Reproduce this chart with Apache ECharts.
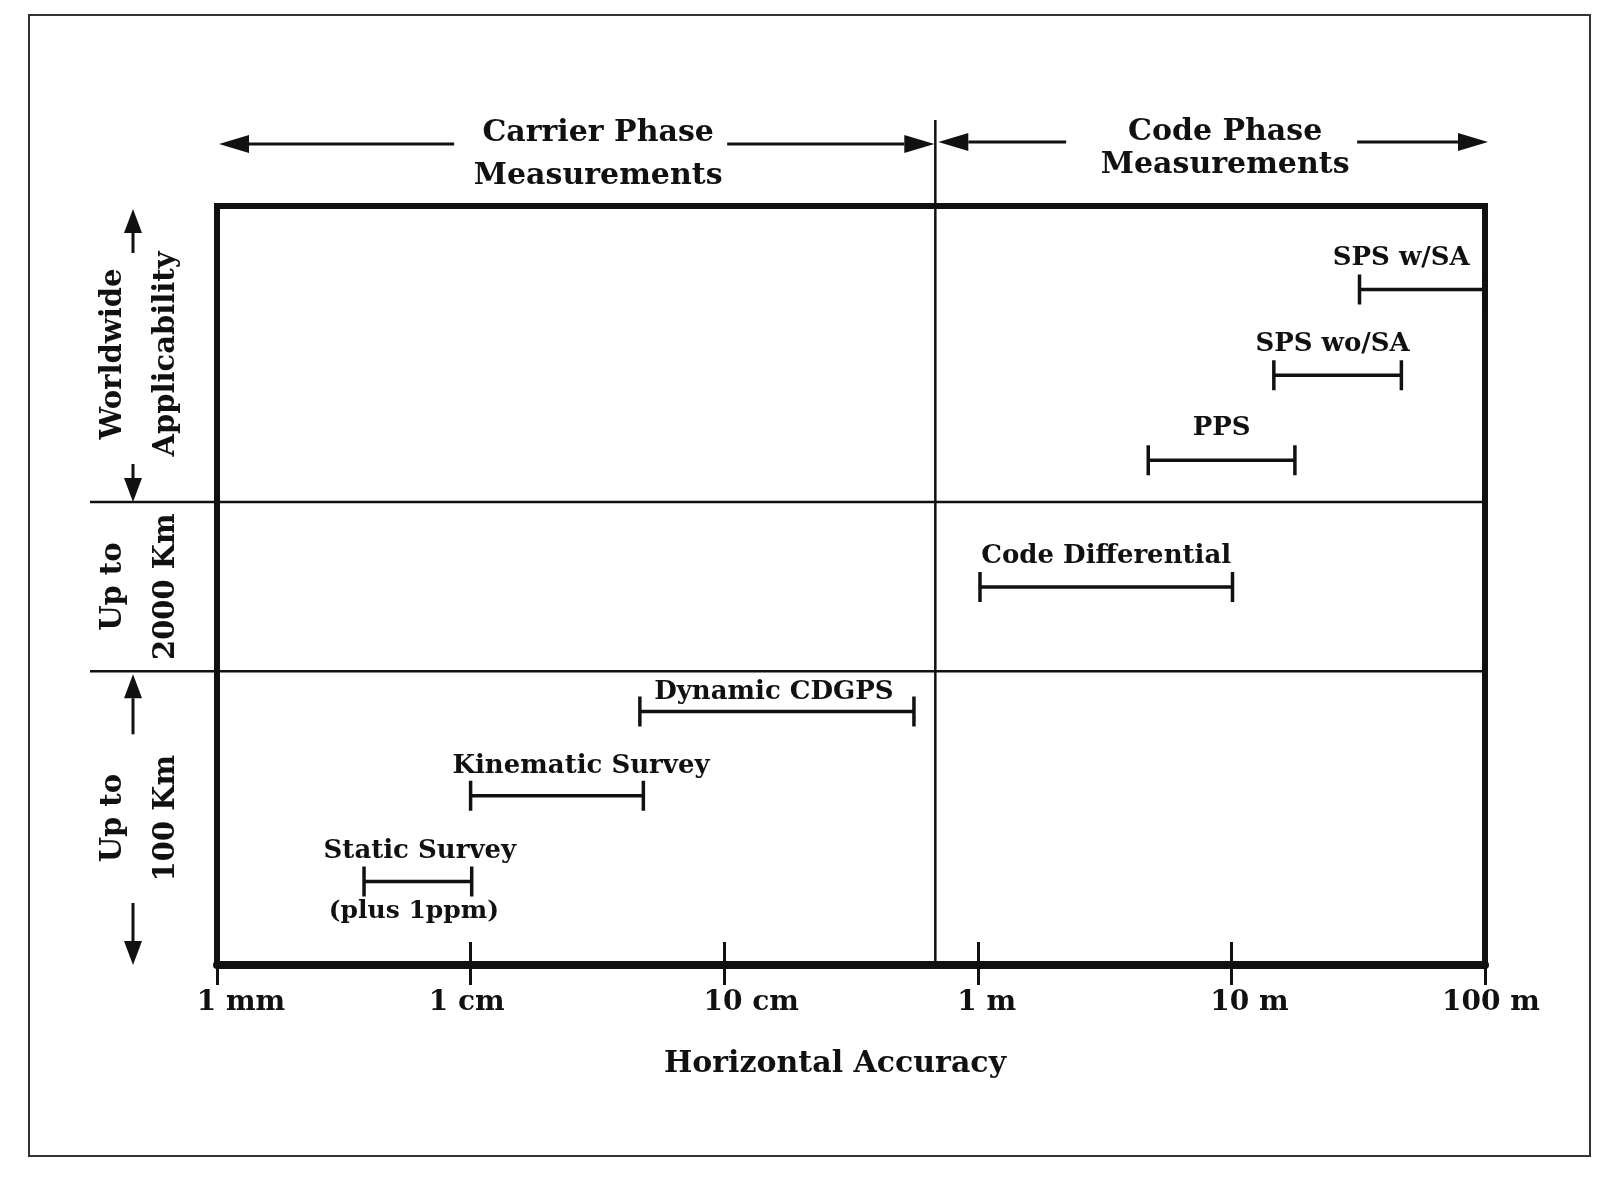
<!DOCTYPE html>
<html>
<head>
<meta charset="utf-8">
<script src="https://cdn.jsdelivr.net/npm/echarts@6.0.0/dist/echarts.min.js"></script>
<style>
  html, body { margin: 0; padding: 0; background: #fff; }
  #chart { width: 1600px; height: 1195px; }
</style>
</head>
<body>
<div id="chart"></div>
<script>
// tick labels of the log accuracy axis (values in metres)
var tickLabels = ['1 mm', '1 cm', '10 cm', '1 m', '10 m', '100 m'];

// accuracy ranges, metres
var rangeNames = ['SPS w/SA', 'SPS wo/SA', 'PPS', 'Code Differential', 'Dynamic CDGPS', 'Kinematic Survey', 'Static Survey'];
var rangeLow = [32, 14.7, 4.7, 1.02, 0.0465, 0.01, 0.0038];
var rangeHigh = [100, 46.8, 17.8, 10.1, 0.56, 0.048, 0.0101];
var rangeLevel = [89, 77.7, 66.5, 49.8, 33.4, 22.3, 11.0];
var rangeNotes = ['', '', '', '', '', '', '(plus 1ppm)'];

// coverage bands (bottom to top) and the carrier / code split
var bandBounds = [38.7, 61.0];
var bandNames = ['Up to\n100 Km', 'Up to\n2000 Km', 'Worldwide\nApplicability'];
var phaseDivide = 0.68;
var phaseNames = ['Carrier Phase\nMeasurements', 'Code Phase\nMeasurements'];

// label nudges (px)
var labelDx = [-21, -5, 0, 0, -3, 24, 2];
var labelDy = [-31, -31, -32, -31, -19, -29, -30];
var tickDx = [24, -4, 27, 9, 18, 6];

var font = 'DejaVu Serif';
var ink = '#111';

var chart = echarts.init(document.getElementById('chart'));

function renderRange(params, api) {
  var i = params.dataIndex;
  var y = api.value(2);
  var a = api.coord([api.value(0), y]);
  var b = api.coord([api.value(1), y]);
  var cap = 15;
  var st = { stroke: ink, lineWidth: 3.5 };
  var kids = [
    { type: 'line', shape: { x1: a[0], y1: a[1], x2: b[0], y2: b[1] }, style: st },
    { type: 'line', shape: { x1: a[0], y1: a[1] - cap, x2: a[0], y2: a[1] + cap }, style: st },
    { type: 'line', shape: { x1: b[0], y1: b[1] - cap, x2: b[0], y2: b[1] + cap }, style: st },
    {
      type: 'text', x: (a[0] + b[0]) / 2 + labelDx[i], y: a[1] + labelDy[i],
      style: { text: rangeNames[i], fontSize: 26, fontWeight: 'bold', fontFamily: font, fill: ink, align: 'center', verticalAlign: 'middle' }
    }
  ];
  if (rangeNotes[i]) {
    kids.push({
      type: 'text', x: (a[0] + b[0]) / 2 - 4, y: a[1] + 30,
      style: { text: rangeNotes[i], fontSize: 25, fontWeight: 'bold', fontFamily: font, fill: ink, align: 'center', verticalAlign: 'middle' }
    });
  }
  return { type: 'group', children: kids };
}

var rangeData = rangeNames.map(function (n, i) {
  return [rangeLow[i], rangeHigh[i], rangeLevel[i]];
});

// one rich style per tick label so each can sit where the original put it
var tickRich = {};
tickDx.forEach(function (d, i) {
  tickRich['t' + i] = {
    fontSize: 28, fontWeight: 'bold', fontFamily: font, color: ink,
    padding: d > 0 ? [0, 0, 0, 2 * d] : [0, -2 * d, 0, 0]
  };
});

var option = {
  animation: false,
  backgroundColor: '#fff',
  grid: { left: 217, right: 115, top: 206, bottom: 230, show: true, borderColor: ink, borderWidth: 6 },
  xAxis: [
    {
      type: 'log', logBase: 10, min: 0.001, max: 100, position: 'bottom',
      axisLine: { show: true, onZero: false, lineStyle: { color: ink, width: 8 } },
      axisTick: { show: true, inside: false, length: 20, lineStyle: { color: ink, width: 3 } },
      axisLabel: {
        margin: 24,
        formatter: function (v, i) { return '{t' + i + '|' + tickLabels[i] + '}'; },
        rich: tickRich
      },
      splitLine: { show: false },
      minorTick: { show: false },
      name: 'Horizontal Accuracy',
      nameLocation: 'middle',
      nameGap: 84,
      nameTextStyle: { fontSize: 30, fontWeight: 'bold', fontFamily: font, color: ink, padding: [0, 32, 0, 0] }
    },
    {
      type: 'log', logBase: 10, min: 0.001, max: 100, position: 'bottom',
      axisLine: { show: false },
      axisTick: { show: true, inside: true, length: 23, lineStyle: { color: ink, width: 3 } },
      axisLabel: { show: false },
      splitLine: { show: false }
    }
  ],
  yAxis: { type: 'value', min: 0, max: 100, show: false },
  series: [
    {
      type: 'custom',
      xAxisIndex: 0,
      yAxisIndex: 0,
      clip: false,
      renderItem: renderRange,
      encode: { x: [0, 1], y: 2 },
      data: rangeData
    }
  ]
};

chart.setOption(option);

// frame, dividers, arrows and side captions
function seg(x1, y1, x2, y2, w) {
  return { type: 'line', z: 10, shape: { x1: x1, y1: y1, x2: x2, y2: y2 }, style: { stroke: ink, lineWidth: w || 2.5 } };
}
function arrow(x1, y1, x2, y2, len, half, w) {
  var dx = x2 - x1, dy = y2 - y1;
  var d = Math.sqrt(dx * dx + dy * dy);
  var ux = dx / d, uy = dy / d;
  var bx = x2 - ux * len, by = y2 - uy * len;
  return [
    seg(x1, y1, bx, by, w),
    { type: 'polygon', z: 10, shape: { points: [[x2, y2], [bx - uy * half, by + ux * half], [bx + uy * half, by - ux * half]] }, style: { fill: ink } }
  ];
}
function label(x, y, s, size, lh, rot) {
  return {
    type: 'text', z: 10, x: x, y: y, rotation: rot || 0,
    style: { text: s, fontSize: size, fontWeight: 'bold', fontFamily: font, fill: ink, align: 'center', verticalAlign: 'middle', lineHeight: lh || size }
  };
}

var toPx = function (x, y) { return chart.convertToPixel({ seriesIndex: 0 }, [x, y]); };
var lo = toPx(0.001, 0);
var hi = toPx(100, 100);
var split = toPx(phaseDivide, 0);

var g = [];
g.push({ type: 'rect', z: 1, shape: { x: 29, y: 15, width: 1561, height: 1141 }, style: { fill: 'none', stroke: '#333', lineWidth: 2 } });

bandBounds.forEach(function (b) {
  var p = toPx(100, b);
  g.push(seg(90, p[1], p[0], p[1], 2.5));
});
g.push(seg(split[0], 120, split[0], lo[1], 2.5));

// side captions with their arrows
var edges = [0].concat(bandBounds, [100]).map(function (v) { return toPx(1, v)[1]; });
var bandArrows = [[60, 62], null, [44, 38]];
bandNames.forEach(function (n, i) {
  var bot = edges[i], top = edges[i + 1];
  g.push(label(140, (bot + top) / 2, n, 29, 53, Math.PI / 2));
  if (bandArrows[i]) {
    g = g.concat(arrow(133, top + 3 + bandArrows[i][0], 133, top + 3, 24, 9, 3));
    g = g.concat(arrow(133, bot - bandArrows[i][1], 133, bot, 24, 9, 3));
  }
});

// phase titles and their arrows
var carrierX = (lo[0] + split[0]) / 2 + 22;
var codeX = (split[0] + hi[0]) / 2 + 15;
g.push(label(carrierX, 155, phaseNames[0], 30, 43));
g.push(label(codeX, 149, phaseNames[1], 30, 33));
g = g.concat(arrow(carrierX - 144, 144, lo[0] + 2, 144, 30, 9, 3));
g = g.concat(arrow(carrierX + 129, 144, split[0] - 1, 144, 30, 9, 3));
g = g.concat(arrow(codeX - 159, 142, split[0] + 3, 142, 30, 9, 3));
g = g.concat(arrow(codeX + 132, 142, hi[0] + 3, 142, 30, 9, 3));

chart.setOption({ graphic: g });
</script>
</body>
</html>
